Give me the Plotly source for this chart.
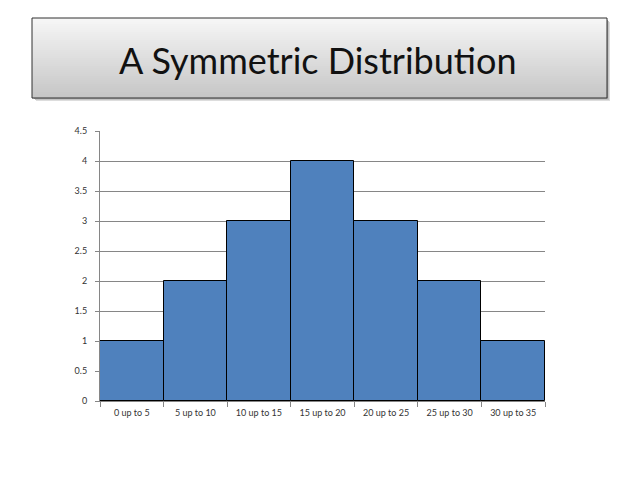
import plotly.graph_objects as go

categories = ["0 up to 5", "5 up to 10", "10 up to 15", "15 up to 20", "20 up to 25", "25 up to 30", "30 up to 35"]
counts = [1, 2, 3, 4, 3, 2, 1]
y_ticks = [0, 0.5, 1, 1.5, 2, 2.5, 3, 3.5, 4, 4.5]
y_tick_labels = ["0", "0.5", "1", "1.5", "2", "2.5", "3", "3.5", "4", "4.5"]
title_text = "A Symmetric Distribution"

fig = go.Figure()
fig.add_trace(go.Bar(
    x=categories, y=counts,
    marker=dict(color="#4F81BD", line=dict(color="black", width=1)),
    width=1,
))

# page body has an 8px offset; compensate
OFF = 8
W, H = 638 - OFF, 479 - OFF
PL, PR, PT, PB = 100, 545, 131, 401

def px2paper_x(px):
    return (px - PL) / (PR - PL)
def px2paper_y(py):
    return (PB - py) / (PB - PT)

shapes = []
bx0, bx1, by0, by1 = 32, 607, 18, 98
# shadow
for i, c in enumerate(["#dddddd", "#c4c4c4", "#a0a0a0"]):
    off = 3 - i
    shapes.append(dict(type="rect", xref="paper", yref="paper", layer="above",
                       x0=px2paper_x(bx0 + off + 1), x1=px2paper_x(bx1 + off),
                       y0=px2paper_y(by1 + off), y1=px2paper_y(by0 + off + 1),
                       fillcolor=c, line=dict(width=0)))
# gradient bands
n = 40
top = (246, 246, 246)
bot = (198, 198, 198)
for i in range(n):
    t = i / (n - 1)
    col = tuple(int(round(top[k] + (bot[k] - top[k]) * t)) for k in range(3))
    ya = by0 + (by1 - by0) * i / n
    yb = by0 + (by1 - by0) * (i + 1) / n
    shapes.append(dict(type="rect", xref="paper", yref="paper", layer="above",
                       x0=px2paper_x(bx0), x1=px2paper_x(bx1),
                       y0=px2paper_y(yb + 0.5), y1=px2paper_y(ya),
                       fillcolor="rgb(%d,%d,%d)" % col, line=dict(width=0)))
shapes.append(dict(type="rect", xref="paper", yref="paper", layer="above",
                   x0=px2paper_x(bx0), x1=px2paper_x(bx1),
                   y0=px2paper_y(by1), y1=px2paper_y(by0),
                   fillcolor="rgba(0,0,0,0)", line=dict(color="#303030", width=1)))

fig.update_layout(
    width=W, height=H,
    margin=dict(l=PL - OFF, r=638 - PR, t=PT - OFF, b=479 - PB),
    paper_bgcolor="white", plot_bgcolor="white",
    showlegend=False, bargap=0,
    shapes=shapes,
    annotations=[dict(text=title_text, xref="paper", yref="paper",
                      x=px2paper_x((bx0 + bx1) / 2 - 2), y=px2paper_y((by0 + by1) / 2 + 2),
                      xanchor="center", yanchor="middle", showarrow=False,
                      font=dict(family="Lato", size=36, color="#111111"))],
    xaxis=dict(showline=True, linecolor="#868686", linewidth=1,
               ticks="outside", tickson="boundaries", ticklen=5, tickcolor="#868686",
               ticklabelstandoff=3,
               tickfont=dict(family="Lato", size=9, color="#333333"),
               showgrid=False, fixedrange=True),
    yaxis=dict(range=[0, 4.5], tickvals=y_ticks, ticktext=y_tick_labels,
               showline=True, linecolor="#868686", linewidth=1,
               ticks="outside", ticklen=4, tickcolor="#868686",
               ticklabelstandoff=6,
               gridcolor="#868686", gridwidth=1, zeroline=False,
               tickfont=dict(family="Lato", size=9, color="#333333")),
)

fig.write_html("out.html")
